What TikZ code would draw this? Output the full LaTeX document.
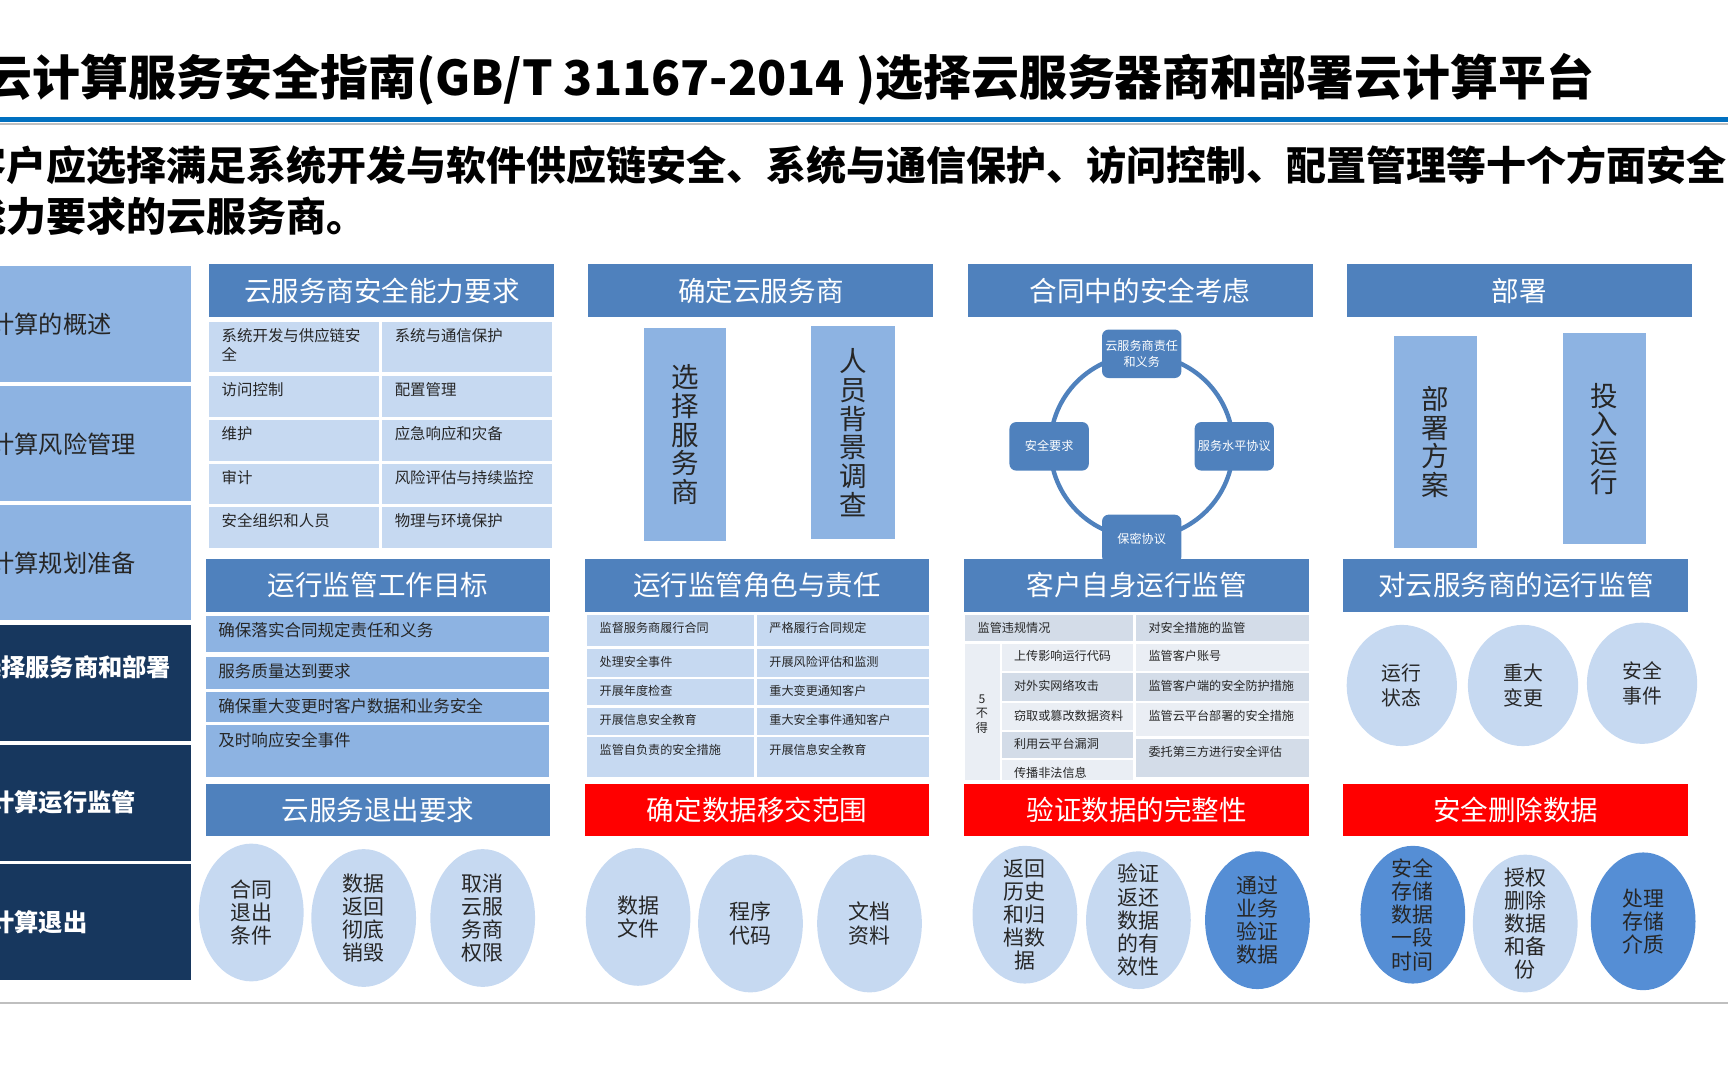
\documentclass[tikz,border=0pt]{standalone}
\usepackage{fontspec}
\setmainfont{Noto Sans CJK SC}
\usetikzlibrary{shapes.geometric}
\definecolor{hb}{RGB}{79,129,189}
\definecolor{lb}{RGB}{198,217,241}
\definecolor{mb}{RGB}{141,179,226}
\definecolor{eb}{RGB}{85,142,213}
\definecolor{navy}{RGB}{23,55,94}
\definecolor{ga}{RGB}{211,220,232}
\definecolor{gb}{RGB}{234,238,244}
\definecolor{tc}{RGB}{38,38,38}
\definecolor{tl}{RGB}{0,112,192}
\definecolor{redh}{RGB}{255,0,0}
\newcommand\fs[2]{\fontsize{#1pt}{#2pt}\selectfont}
\tikzset{
 box/.style={draw=none,inner sep=0,outer sep=0,anchor=north west},
 ctext/.style={anchor=north west,inner sep=0,align=left,text=tc},
 hdtext/.style={text=white,font=\fs{25}{30}},
 ring/.style={draw=hb,line width=4pt},
 rbox/.style={fill=hb,rounded corners=6pt,minimum width=72,minimum height=44,inner sep=0,text=white,align=center,font=\fs{11}{14}},
 elps/.style={ellipse,inner sep=0,minimum width=95,minimum height=125},
 etext/.style={align=center,text=tc,font=\fs{19}{21}},
}
\newcommand\cell[8]{\node[box,fill=#2,minimum width={(#5-#3)*1pt},minimum height={(#6-#4)*1pt}] (#1) at (#3,#4) {};
 \node[ctext,font=#7] (#1t) at (#3+11,#4+6) {#8};}
\newcommand\hd[7]{\node[box,fill=#2,minimum width={(#5-#3)*1pt},minimum height={(#6-#4)*1pt}] (#1) at (#3,#4) {};
 \node[hdtext] (#1t) at (#1.center) {#7};}
\newcommand\vrect[6]{\node[box,fill=mb,minimum width={(#4-#2)*1pt},minimum height={(#5-#3)*1pt}] (#1) at (#2,#3) {};
 \node[align=center,text=tc,font=\fs{25}{26}] (#1t) at (#1.center) {#6};}
\newcommand\elp[5]{\node[elps,fill=#2] (#1) at (#3,#4) {};
 \node[etext] (#1t) at (#1.center) {#5};}
\begin{document}
\begin{tikzpicture}[x=1pt,y=-1pt]
\useasboundingbox (0,0) rectangle (1568,980);
\clip (0,0) rectangle (1568,980);
\node[anchor=west,inner sep=0,font=\bfseries\fs{43.5}{50},text=black] (title) at (-14,72) {云计算服务安全指南(GB/T 31167-2014 )选择云服务器商和部署云计算平台};
\fill[tl] (0,106) rectangle (1568,111);
\fill[black!25] (0,112) rectangle (1568,113);
\node[anchor=north west,inner sep=0,align=left,font=\bfseries\fs{36.3}{46},text=black] (sub) at (-31,132) {客户应选择满足系统开发与软件供应链安全、系统与通信保护、访问控制、配置管理等十个方面安全\\能力要求的云服务商。};
% sidebar
\node[box,fill=mb,minimum width=173,minimum height=106] (s1) at (0,241) {};
\node[anchor=west,inner sep=0,text=tc,font=\fs{22}{26}] (s1t) at (-31,294) {云计算的概述};
\node[box,fill=mb,minimum width=173,minimum height=105] (s2) at (0,350) {};
\node[anchor=west,inner sep=0,text=tc,font=\fs{22}{26}] (s2t) at (-31,403) {云计算风险管理};
\node[box,fill=mb,minimum width=173,minimum height=105] (s3) at (0,458) {};
\node[anchor=west,inner sep=0,text=tc,font=\fs{22}{26}] (s3t) at (-31,511) {云计算规划准备};
\node[box,fill=navy,minimum width=173,minimum height=105] (s4) at (0,567) {};
\node[anchor=west,inner sep=0,text=white,font=\bfseries\fs{22}{26}] (s4t) at (-21,606) {选择服务商和部署};
\node[box,fill=navy,minimum width=173,minimum height=105] (s5) at (0,676) {};
\node[anchor=west,inner sep=0,text=white,font=\bfseries\fs{22}{26}] (s5t) at (-31,728) {云计算运行监管};
\node[box,fill=navy,minimum width=173,minimum height=105] (s6) at (0,784) {};
\node[anchor=west,inner sep=0,text=white,font=\bfseries\fs{22}{26}] (s6t) at (-31,837) {云计算退出};
% row A headers
\hd{ha1}{hb}{190}{240}{503}{288}{云服务商安全能力要求}
\hd{ha2}{hb}{534}{240}{847}{288}{确定云服务商}
\hd{ha3}{hb}{878}{240}{1191}{288}{合同中的安全考虑}
\hd{ha4}{hb}{1222}{240}{1535}{288}{部署}
\cell{t11}{lb}{190}{292}{344}{338}{\fs{14}{17}}{系统开发与供应链安\\全}
\cell{t12}{lb}{347}{292}{501}{338}{\fs{14}{17}}{系统与通信保护}
\cell{t21}{lb}{190}{341}{344}{378}{\fs{14}{17}}{访问控制}
\cell{t22}{lb}{347}{341}{501}{378}{\fs{14}{17}}{配置管理}
\cell{t31}{lb}{190}{381}{344}{418}{\fs{14}{17}}{维护}
\cell{t32}{lb}{347}{381}{501}{418}{\fs{14}{17}}{应急响应和灾备}
\cell{t41}{lb}{190}{421}{344}{457}{\fs{14}{17}}{审计}
\cell{t42}{lb}{347}{421}{501}{457}{\fs{14}{17}}{风险评估与持续监控}
\cell{t51}{lb}{190}{460}{344}{497}{\fs{14}{17}}{安全组织和人员}
\cell{t52}{lb}{347}{460}{501}{497}{\fs{14}{17}}{物理与环境保护}
\vrect{v1}{584}{298}{659}{491}{选\\择\\服\\务\\商}
\vrect{v2}{736}{296}{812}{489}{人\\员\\背\\景\\调\\查}
\coordinate (rc) at (1036,405);
\draw[ring] (rc) circle (83);
\node[rbox] (cr1) at (1036,321) {云服务商责任\\和义务};
\node[rbox] (cr2) at (952,405) {安全要求};
\node[rbox] (cr3) at (1120,405) {服务水平协议};
\vrect{v3}{1265}{305}{1340}{497}{部\\署\\方\\案}
\vrect{v4}{1418}{302}{1494}{494}{投\\入\\运\\行}
% row B headers
\hd{hb1}{hb}{187}{507}{499}{555}{运行监管工作目标}
\hd{hb2}{hb}{531}{507}{843}{555}{运行监管角色与责任}
\hd{hb3}{hb}{875}{507}{1188}{555}{客户自身运行监管}
\hd{hb4}{hb}{1219}{507}{1532}{555}{对云服务商的运行监管}
\node[rbox] (cr4) at (1036,489) {保密协议};
\cell{g1}{mb}{187}{559}{498}{592}{\fs{15}{18}}{确保落实合同规定责任和义务}
\cell{g2}{mb}{187}{596}{498}{625}{\fs{15}{18}}{服务质量达到要求}
\cell{g3}{mb}{187}{628}{498}{655}{\fs{15}{18}}{确保重大变更时客户数据和业务安全}
\cell{g4}{mb}{187}{658}{498}{705}{\fs{15}{18}}{及时响应安全事件}
\cell{r11}{lb}{533}{558}{684}{586}{\fs{11}{13}}{监督服务商履行合同}
\cell{r12}{lb}{687}{558}{843}{586}{\fs{11}{13}}{严格履行合同规定}
\cell{r21}{lb}{533}{589}{684}{614}{\fs{11}{13}}{处理安全事件}
\cell{r22}{lb}{687}{589}{843}{614}{\fs{11}{13}}{开展风险评估和监测}
\cell{r31}{lb}{533}{616}{684}{640}{\fs{11}{13}}{开展年度检查}
\cell{r32}{lb}{687}{616}{843}{640}{\fs{11}{13}}{重大变更通知客户}
\cell{r41}{lb}{533}{642}{684}{667}{\fs{11}{13}}{开展信息安全教育}
\cell{r42}{lb}{687}{642}{843}{667}{\fs{11}{13}}{重大安全事件通知客户}
\cell{r51}{lb}{533}{669}{684}{705}{\fs{11}{13}}{监管自负责的安全措施}
\cell{r52}{lb}{687}{669}{843}{705}{\fs{11}{13}}{开展信息安全教育}
\cell{q0}{ga}{876}{558}{1028}{582}{\fs{11}{13}}{监管违规情况}
\node[box,fill=gb,minimum width=31,minimum height=124] (q5) at (876,584) {};
\node[align=center,text=tc,font=\fs{11}{13},inner sep=0] (q5t) at (891,648) {5\\不\\得};
\cell{q1}{gb}{909}{584}{1028}{609}{\fs{11}{13}}{上传影响运行代码}
\cell{q2}{ga}{909}{611}{1028}{636}{\fs{11}{13}}{对外实网络攻击}
\cell{q3}{gb}{909}{638}{1028}{662}{\fs{11}{13}}{窃取或篡改数据资料}
\cell{q4}{ga}{909}{664}{1028}{688}{\fs{11}{13}}{利用云平台漏洞}
\cell{q6}{gb}{909}{690}{1028}{708}{\fs{11}{13}}{传播非法信息}
\cell{p0}{ga}{1031}{558}{1188}{582}{\fs{11}{13}}{对安全措施的监管}
\cell{p1}{gb}{1031}{584}{1188}{609}{\fs{11}{13}}{监管客户账号}
\cell{p2}{ga}{1031}{611}{1188}{636}{\fs{11}{13}}{监管客户端的安全防护措施}
\cell{p3}{gb}{1031}{638}{1188}{668}{\fs{11}{13}}{监管云平台部署的安全措施}
\cell{p4}{ga}{1031}{671}{1188}{705}{\fs{11}{13}}{委托第三方进行安全评估}
\node[elps,fill=lb,minimum width=100,minimum height=110] (c1) at (1272,622) {};
\node[etext,font=\fs{18}{22}] (c1t) at (c1.center) {运行\\状态};
\node[elps,fill=lb,minimum width=100,minimum height=110] (c2) at (1382,622) {};
\node[etext,font=\fs{18}{22}] (c2t) at (c2.center) {重大\\变更};
\node[elps,fill=lb,minimum width=100,minimum height=110] (c3) at (1490,620) {};
\node[etext,font=\fs{18}{22}] (c3t) at (c3.center) {安全\\事件};
\hd{hc1}{hb}{187}{711}{499}{759}{云服务退出要求}
\hd{hc2}{redh}{531}{711}{843}{759}{确定数据移交范围}
\hd{hc3}{redh}{875}{711}{1188}{759}{验证数据的完整性}
\hd{hc4}{redh}{1219}{711}{1532}{759}{安全删除数据}
\elp{e1}{lb}{228}{828}{合同\\退出\\条件}
\elp{e2}{lb}{330}{833}{数据\\返回\\彻底\\销毁}
\elp{e3}{lb}{438}{833}{取消\\云服\\务商\\权限}
\elp{e4}{lb}{579}{832}{数据\\文件}
\elp{e5}{lb}{681}{838}{程序\\代码}
\elp{e6}{lb}{789}{838}{文档\\资料}
\elp{e7}{lb}{930}{830}{返回\\历史\\和归\\档数\\据}
\elp{e8}{lb}{1033}{835}{验证\\返还\\数据\\的有\\效性}
\elp{e9}{eb}{1141}{835}{通过\\业务\\验证\\数据}
\elp{e10}{eb}{1282}{830}{安全\\存储\\数据\\一段\\时间}
\elp{e11}{lb}{1384}{838}{授权\\删除\\数据\\和备\\份}
\elp{e12}{eb}{1491}{836}{处理\\存储\\介质}
\fill[black!25] (0,909) rectangle (1568,911);
\end{tikzpicture}
\end{document}
